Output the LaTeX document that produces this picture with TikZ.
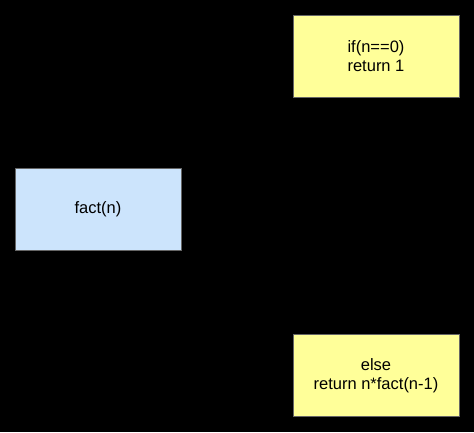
\documentclass[tikz,border=0pt]{standalone}
\usepackage{fontspec}
\setmainfont{Liberation Sans}
\begin{document}
\begin{tikzpicture}[x=1pt,y=-1pt,
  box/.style={draw=black!60,line width=1pt,minimum width=166pt,minimum height=82pt,inner sep=0pt,align=center,font=\fontsize{16.5}{19}\selectfont,text=black},
  bluebox/.style={box,fill=blueboxfill},
  yelbox/.style={box,fill=yelboxfill}]
\definecolor{blueboxfill}{HTML}{CCE4FC}
\definecolor{yelboxfill}{HTML}{FFFF99}
\fill[black] (0,0) rectangle (474,432);
\useasboundingbox (0,0) rectangle (474,432);
\node[bluebox] (fact) at (98,209) {fact(n)};
\node[yelbox] (base) at (376,56) {if(n==0)\\return 1};
\node[yelbox] (rec) at (376,375.5) {else\\return n*fact(n-1)};
\end{tikzpicture}
\end{document}
